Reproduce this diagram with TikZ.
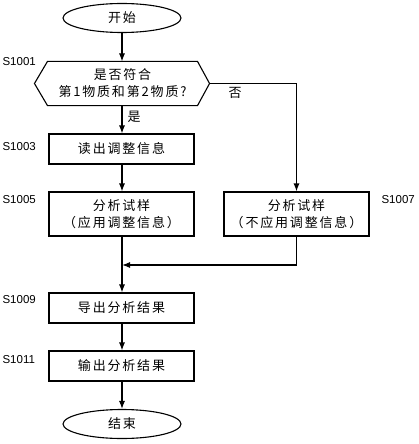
\documentclass[tikz,border=0pt]{standalone}
\usepackage{fontspec}
\setmainfont{Liberation Sans}
\newfontfamily\cjk[LetterSpace=14]{Noto Sans CJK SC}
\usetikzlibrary{arrows.meta,calc,shapes.geometric}
\begin{document}
\begin{tikzpicture}[x=1pt,y=-1pt,
  line width=1.1pt,
  every node/.style={font=\cjk\fontsize{13}{17}\selectfont},
  proc/.style={draw, minimum width=145pt, minimum height=30pt, inner sep=0pt, align=center},
  proc2/.style={proc, minimum height=44pt},
  term/.style={draw, ellipse, minimum width=118pt, minimum height=29pt, inner sep=0pt},
  steplbl/.style={font=\fontsize{11.5}{13}\selectfont, inner sep=0pt},
  arr/.style={-{Latex[length=8pt,width=6pt]}}
]
\useasboundingbox (0,0) rectangle (419,444);
\node[term] (start) at (122,18) {开始};
\node[draw=none, minimum width=149pt, minimum height=43pt, inner sep=0pt, align=center] (dec) at (122.5,83.5) {是否符合\\第1物质和第2物质?};
\draw (dec.north west) -- (dec.north east) -- ($(dec.east)+(12,0)$) coordinate (decR) -- (dec.south east) -- (dec.south west) -- ($(dec.west)+(-13,0)$) -- cycle;
\node[proc] (s1003) at (121.5,149) {读出调整信息};
\node[proc2] (s1005) at (121.5,214) {分析试样\\（应用调整信息）};
\node[proc2] (s1007) at (296.5,214) {分析试样\\（不应用调整信息）};
\node[proc] (s1009) at (121.5,308) {导出分析结果};
\node[proc] (s1011) at (121.5,366) {输出分析结果};
\node[term] (end) at (122,424) {结束};
\node[steplbl, anchor=west] (l1) at (2,62) {S1001};
\node[steplbl, anchor=west] (l3) at (2,147) {S1003};
\node[steplbl, anchor=west] (l5) at (2,200) {S1005};
\node[steplbl, anchor=west] (l7) at (381,200) {S1007};
\node[steplbl, anchor=west] (l9) at (2,300) {S1009};
\node[steplbl, anchor=west] (l11) at (2,360) {S1011};
\node (no) at (235,93) {否};
\node (yes) at (134,117) {是};
\coordinate (merge) at (122,265);
\draw[arr] (start) -- (dec.north -| start);
\draw[arr] (dec.south -| start) -- (s1003.north -| start);
\draw[arr] (s1003.south -| start) -- (s1005.north -| start);
\draw[arr] (decR) -| (s1007.north);
\draw[arr] (s1007.south) |- (merge);
\draw[arr] (s1005.south -| start) -- (s1009.north -| start);
\draw[arr] (s1009.south -| start) -- (s1011.north -| start);
\draw[arr] (s1011.south -| start) -- (end);
\end{tikzpicture}
\end{document}
